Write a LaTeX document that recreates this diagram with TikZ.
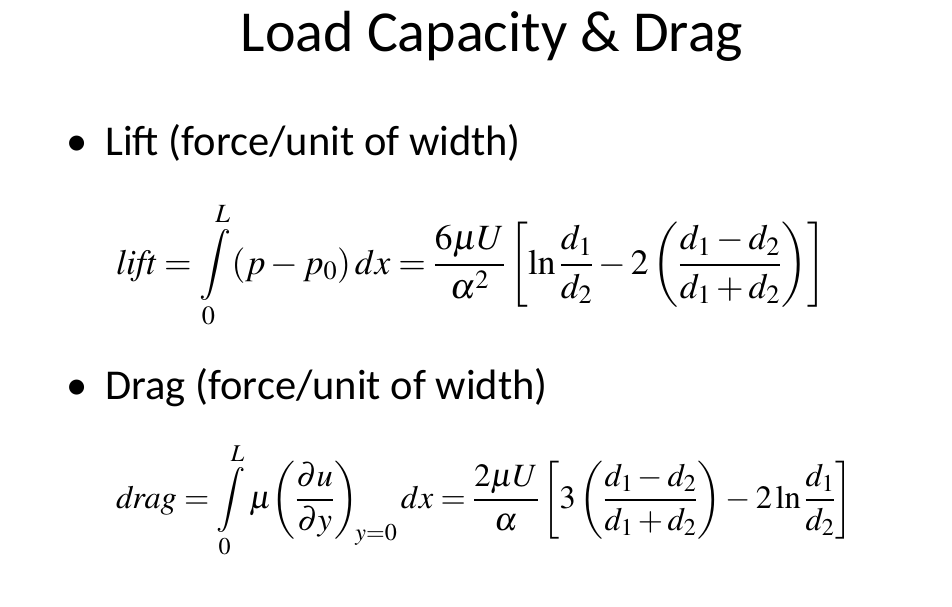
\documentclass[tikz,border=0pt]{standalone}
\usepackage{mathptmx}
\usepackage{amsmath}
\usepackage[no-math]{fontspec}
\setmainfont{Carlito}
\begin{document}
\begin{tikzpicture}[x=1pt,y=-1pt,
  bul/.style={anchor=west,inner sep=0,font=\fontsize{42.5}{48}\selectfont},
  eq/.style={anchor=west,inner sep=0,font=\fontsize{35.5}{40}\selectfont}]
\useasboundingbox[fill=white] (0,0) rectangle (952,606);
\node[inner sep=0,font=\fontsize{58}{66}\selectfont] (title) at (492,36) {Load Capacity \& Drag};
\node[bul] (b1) at (66,143) {\textbullet\hspace{18pt}Lift (force/unit of width)};
\node[bul] (b2) at (66,388) {\textbullet\hspace{18pt}Drag (force/unit of width)};
\node[eq] (e1) at (116,265) {$\displaystyle \mathit{lift}=\int\limits_0^L (p-p_0)\,dx=\frac{6\mu U}{\alpha^2}\left[\ln\frac{d_1}{d_2}-2\left(\frac{d_1-d_2}{d_1+d_2}\right)\right]$};
\node[eq,font=\fontsize{32.5}{38}\selectfont] (e2) at (116,500) {$\displaystyle \mathit{drag}=\int\limits_0^L \mu\!\left(\frac{\partial u}{\partial y}\right)_{\!y=0}dx=\frac{2\mu U}{\alpha}\left[3\left(\frac{d_1-d_2}{d_1+d_2}\right)-2\ln\frac{d_1}{d_2}\right]$};
\end{tikzpicture}
\end{document}
